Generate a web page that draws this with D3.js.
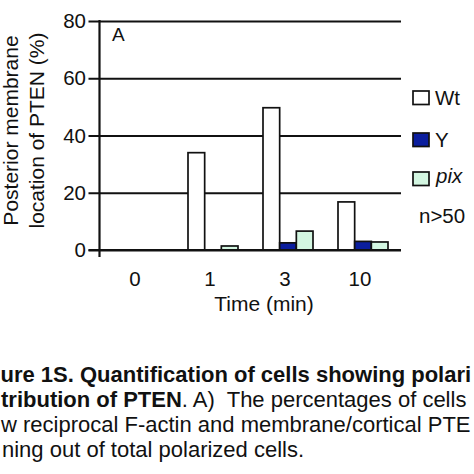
<!DOCTYPE html>
<html>
<head>
<meta charset="utf-8">
<script src="https://cdn.jsdelivr.net/npm/d3@7"></script>
<style>
  html, body { margin: 0; padding: 0; background: #fff; }
  svg { display: block; font-family: "Liberation Sans", Arial, Helvetica, sans-serif; }
  text { white-space: pre; }
</style>
</head>
<body>
<svg id="chart" width="474" height="474"></svg>
<script>
// ---- data ----
const times = ["0", "1", "3", "10"];
const seriesNames = ["Wt", "Y", "pix"];
const wtValues  = [0, 34, 49.7, 16.8];
const yValues   = [0, 0, 2.5, 3];
const pixValues = [0, 1.4, 6.6, 2.8];
const yTicks = [0, 20, 40, 60, 80];
const seriesColors = ["#ffffff", "#0b1e9e", "#d3f6e1"];

const valuesBySeries = { Wt: wtValues, Y: yValues, pix: pixValues };
const rows = times.map((t, i) => ({ time: t, values: seriesNames.map(s => ({ key: s, value: valuesBySeries[s][i] })) }));

const svg = d3.select("#chart");

const plotLeft = 99.5, plotRight = 401, plotTop = 21, plotBottom = 250;

const y = d3.scaleLinear().domain([0, 80]).range([plotBottom, plotTop]);
const x0 = d3.scaleBand().domain(times).range([100.5, 400.5]).paddingInner(1/3).paddingOuter(1/6);
const x1 = d3.scaleBand().domain(seriesNames).range([0, x0.bandwidth()]);
const color = d3.scaleOrdinal().domain(seriesNames).range(seriesColors);

// ---- y axis with gridlines ----
const yAxis = svg.append("g")
  .attr("transform", `translate(${plotLeft},0)`)
  .call(d3.axisLeft(y).tickValues(yTicks).tickSize(11).tickPadding(2.5).tickSizeOuter(0));
yAxis.select(".domain").remove();
yAxis.selectAll(".tick line")
  .attr("x1", -11).attr("x2", plotRight - plotLeft)
  .attr("stroke", "#111").attr("stroke-width", 2.2);
yAxis.selectAll(".tick text")
  .attr("font-size", 20.5).attr("fill", "#111")
  .attr("font-family", "'Liberation Sans', Arial, sans-serif");

// vertical axis line
svg.append("line")
  .attr("x1", plotLeft).attr("x2", plotLeft)
  .attr("y1", y(80) - 1).attr("y2", plotBottom + 7)
  .attr("stroke", "#111").attr("stroke-width", 2.2);

// ---- bars ----
const groups = svg.append("g").selectAll("g")
  .data(rows).join("g")
  .attr("transform", d => `translate(${x0(d.time)},0)`);
groups.selectAll("rect")
  .data(d => d.values.filter(v => v.value > 0))
  .join("rect")
  .attr("x", d => x1(d.key))
  .attr("width", x1.bandwidth())
  .attr("y", d => y(d.value))
  .attr("height", d => plotBottom - y(d.value))
  .attr("fill", d => color(d.key))
  .attr("stroke", "#111")
  .attr("stroke-width", 1.7);

// redraw baseline over bars
svg.append("line")
  .attr("x1", plotLeft - 11).attr("x2", plotRight)
  .attr("y1", plotBottom).attr("y2", plotBottom)
  .attr("stroke", "#111").attr("stroke-width", 2.2);

// ---- x axis labels ----
const xAxis = svg.append("g")
  .attr("transform", `translate(0,${plotBottom})`)
  .call(d3.axisBottom(x0).tickSize(0).tickPadding(21));
xAxis.select(".domain").remove();
xAxis.selectAll(".tick text")
  .attr("font-size", 20.5).attr("fill", "#111").attr("dx", -3)
  .attr("font-family", "'Liberation Sans', Arial, sans-serif");

// x title
svg.append("text")
  .attr("x", 264).attr("y", 311)
  .attr("text-anchor", "middle").attr("font-size", 21).attr("fill", "#111")
  .text("Time (min)");

// y title
const yTitle = svg.append("text")
  .attr("transform", "translate(0,130.5) rotate(-90)")
  .attr("text-anchor", "middle").attr("font-size", 21).attr("fill", "#111");
yTitle.append("tspan").attr("x", 0).attr("y", 17.5).text("Posterior membrane");
yTitle.append("tspan").attr("x", 0).attr("y", 43.5).text("location of PTEN (%)");

// panel label
svg.append("text")
  .attr("x", 112).attr("y", 40.5)
  .attr("font-size", 19).attr("fill", "#111")
  .text("A");

// ---- legend ----
const legendY = [97.5, 139.5, 178.5];
const legend = svg.append("g").selectAll("g")
  .data(seriesNames).join("g")
  .attr("transform", (d, i) => `translate(413,${legendY[i]})`);
legend.append("rect")
  .attr("x", 0).attr("y", -6.5).attr("width", 16).attr("height", 13.5)
  .attr("fill", d => color(d)).attr("stroke", "#111").attr("stroke-width", 1.7);
legend.append("text")
  .attr("x", (d, i) => i === 2 ? 23 : 22).attr("y", (d, i) => i === 2 ? 4 : 7.5)
  .attr("font-size", 20.5).attr("fill", "#111")
  .attr("font-style", d => d === "pix" ? "italic" : "normal")
  .text(d => d);

svg.append("text")
  .attr("x", 419).attr("y", 223)
  .attr("font-size", 20.5).attr("fill", "#111")
  .text("n>50");

// ---- caption ----
const cap = svg.append("g").attr("font-size", 22).attr("fill", "#111");
cap.append("text").attr("x", 0.5).attr("y", 382).attr("font-weight", "bold")
  .text("ure 1S. Quantification of cells showing polari");
const l2 = cap.append("text").attr("x", 1).attr("y", 407);
l2.append("tspan").attr("font-weight", "bold").text("tribution of PTEN");
l2.append("tspan").text(". A)  The percentages of cells");
cap.append("text").attr("x", 1).attr("y", 432)
  .text("w reciprocal F-actin and membrane/cortical PTE");
cap.append("text").attr("x", 2).attr("y", 457)
  .text("ning out of total polarized cells.");
</script>
</body>
</html>
